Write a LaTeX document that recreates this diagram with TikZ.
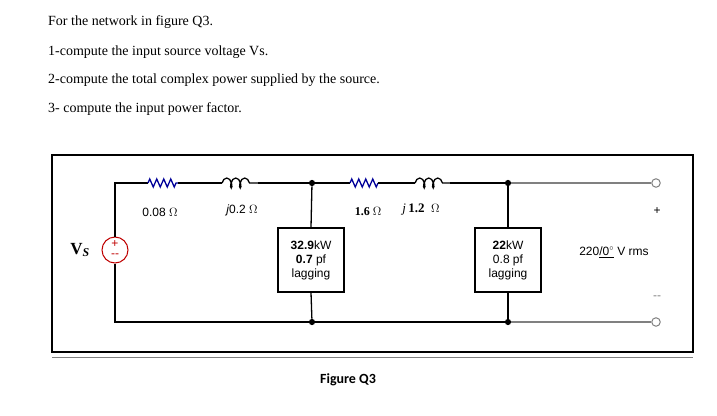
\documentclass[tikz,border=0pt]{standalone}
\usepackage{fontspec}
\setmainfont{Liberation Serif}
\newfontfamily\arial{Liberation Sans}
\newfontfamily\calib{Carlito}
\usetikzlibrary{decorations.pathmorphing}
\begin{document}
\begin{tikzpicture}[x=1pt,y=-1pt,
  wire/.style={line width=1.3pt},
  lab/.style={font=\arial\fontsize{12}{14}\selectfont, inner sep=0pt},
  boxload/.style={draw,line width=1.2pt,fill=white,minimum width=66pt,minimum height=64pt,align=center,inner sep=1pt,font=\arial\fontsize{12}{14}\selectfont},
  dot/.style={circle,fill,inner sep=2.2pt},
  term/.style={circle,draw=gray,line width=1pt,fill=white,inner sep=3pt},
  txt/.style={anchor=west,inner sep=0pt,font=\fontsize{14}{16}\selectfont}]
\useasboundingbox (0,0) rectangle (717,415);
\node[txt] (t1) at (48,22) {For the network in figure Q3.};
\node[txt] (t2) at (48,52) {1-compute the input source voltage Vs.};
\node[txt] (t3) at (48,80) {2-compute the total complex power supplied by the source.};
\node[txt] (t4) at (48,109) {3- compute the input power factor.};
\draw[line width=2.6pt] (52,155) rectangle (693,352);
\draw[line width=0.8pt,gray] (52,357) -- (693,357);
% coordinates
\coordinate (tl) at (115,183); \coordinate (bl) at (115,322);
\node[dot] (n1) at (312,183) {}; \node[dot] (n1b) at (312,322) {};
\node[dot] (n2) at (508,183) {}; \node[dot] (n2b) at (508,322) {};
\node[term] (pt) at (656,183) {}; \node[term] (nt) at (656,322) {};
\node[circle,draw=red!75!black,line width=1pt,minimum size=26pt,inner sep=0pt] (src) at (115,250) {};
\node[red!75!black,font=\arial\fontsize{12}{12}\selectfont] (sp) at (115,244) {+};
\node[red!75!black,font=\arial\fontsize{12}{12}\selectfont] (sm) at (115,256) {--};
\node[boxload] (L1) at (311,260) {\textbf{32.9}kW\\ \textbf{0.7} pf\\ lagging};
\node[boxload] (L2) at (508,260) {\textbf{22}kW\\ 0.8 pf\\ lagging};
% wires
\draw[wire] (src.north) -- (tl) -- (148,183);
\draw[wire,blue!60!black,decorate,decoration={zigzag,segment length=7pt,amplitude=4pt}] (148,183) -- (178,183);
\draw[wire] (178,183) -- (222,183);
\draw[wire,decorate,decoration={coil,aspect=0.5,segment length=9pt,amplitude=5pt}] (222,183) -- (258,183);
\draw[wire] (258,183) -- (n1) -- (350,183);
\draw[wire,blue!60!black,decorate,decoration={zigzag,segment length=7pt,amplitude=4pt}] (350,183) -- (378,183);
\draw[wire] (378,183) -- (415,183);
\draw[wire,decorate,decoration={coil,aspect=0.5,segment length=9pt,amplitude=5pt}] (415,183) -- (450,183);
\draw[wire] (450,183) -- (n2);
\draw[wire,gray] (n2) -- (pt);
\draw[wire] (src.south) -- (bl) -- (n1b) -- (n2b);
\draw[wire,gray] (n2b) -- (nt);
\draw[wire] (n1) -- (L1.north); \draw[wire] (L1.south) -- (n1b);
\draw[wire] (n2) -- (L2.north); \draw[wire] (L2.south) -- (n2b);
% labels
\node[lab] (r1) at (160,212) {0.08 $\Omega$};
\node[lab] (x1) at (242,210) {\textit{j}0.2 $\Omega$};
\node[lab,font=\bfseries\fontsize{12}{14}\selectfont] (r2) at (368,211) {1.6 $\Omega$};
\node[lab,font=\fontsize{13}{14}\selectfont] (x2) at (421,210) {\textit{j}\,\textbf{1.2} \ $\Omega$};
\node[lab] (plus) at (657,211) {+};
\node[lab,gray] (minus) at (657,298) {--};
\node[lab] (vr) at (614,252) {220\underline{/0$^\circ$} V rms};
\node[font=\bfseries\fontsize{17}{17}\selectfont] (vs) at (80,250) {V\textsubscript{\textit{S}}};
\node[font=\calib\bfseries\fontsize{14}{16}\selectfont] (fig) at (348,380) {Figure Q3};
\end{tikzpicture}
\end{document}
